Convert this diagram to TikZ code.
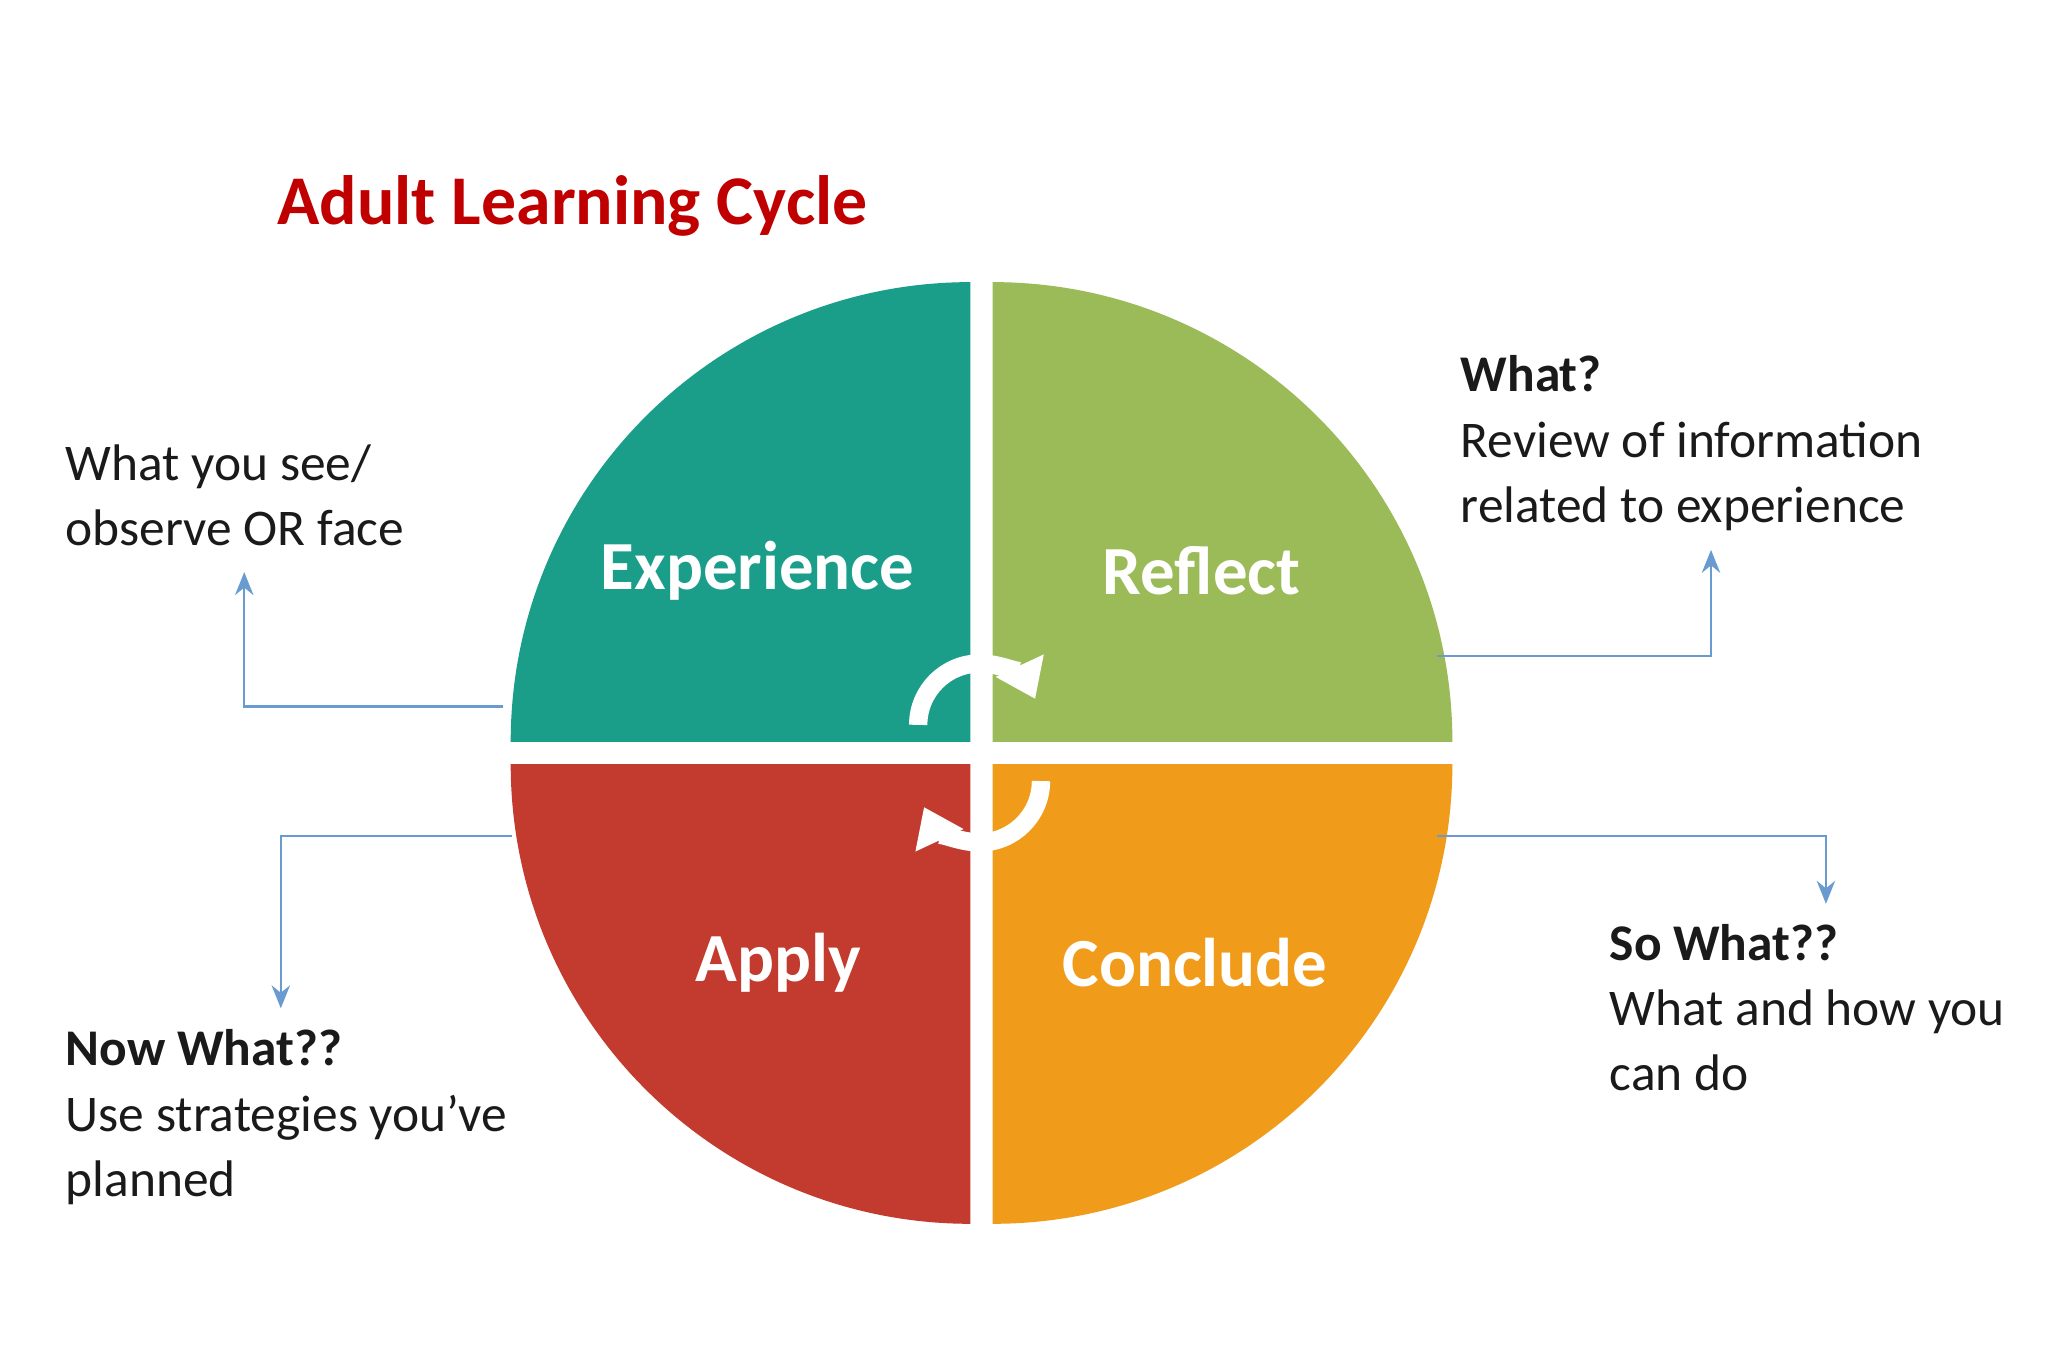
\documentclass[tikz,border=0pt]{standalone}
\usepackage{fontspec}
\setmainfont{Carlito}
\usetikzlibrary{arrows.meta}
\definecolor{teal1}{HTML}{1A9E8A}
\definecolor{green1}{HTML}{9BBB59}
\definecolor{red1}{HTML}{C23B2E}
\definecolor{orange1}{HTML}{F09C1A}
\definecolor{line1}{HTML}{6A9BD0}
\definecolor{title1}{HTML}{C00000}
\definecolor{txt1}{HTML}{1A1A1A}
\begin{document}
\begin{tikzpicture}[x=0.01cm,y=-0.01cm,
  quad/.style={font=\fontsize{15}{18}\selectfont\bfseries,text=white},
  side/.style={anchor=base west,align=left,font=\fontsize{11.2}{14.2}\selectfont,text=txt1},
  conn/.style={draw=line1,line width=0.5pt,-{Stealth[length=5pt,width=4pt]}}]
\useasboundingbox (0,0) rectangle (1568,1046);
\fill[white] (0,0) rectangle (1568,1046);
\def\R{352}
\fill[teal1] (743,568) -- (743-\R,568) arc[start angle=180,end angle=90,x radius=\R,y radius=-\R] -- cycle;
\fill[green1] (760,568) -- (760,568-\R) arc[start angle=90,end angle=0,x radius=\R,y radius=-\R] -- cycle;
\fill[red1] (743,585) -- (743,585+\R) arc[start angle=270,end angle=180,x radius=\R,y radius=-\R] -- cycle;
\fill[orange1] (760,585) -- (760+\R,585) arc[start angle=360,end angle=270,x radius=\R,y radius=-\R] -- cycle;
% center arrows
\draw[white,line width=4pt,-{Triangle[length=8pt,width=11pt]}] (703,555) arc[start angle=180,end angle=25,x radius=47,y radius=-47];
\draw[white,line width=4pt,-{Triangle[length=8pt,width=11pt]}] (797,598) arc[start angle=0,end angle=-155,x radius=47,y radius=-47];
\node[quad] (exp) at (580,437) {Experience};
\node[quad] (ref) at (920,437) {Reflect};
\node[quad] (app) at (596,737) {Apply};
\node[quad] (con) at (915,737) {Conclude};
\node[anchor=base west,font=\fontsize{15.2}{18}\selectfont\bfseries,text=title1] (title) at (200,172) {Adult Learning Cycle};
\node[side] (t1) at (38,418) {What you see/\\observe OR face};
\node[side] (t2) at (1106,400) {\textbf{What?}\\Review of information\\related to experience};
\node[side] (t3) at (1220,835) {\textbf{So What??}\\What and how you\\can do};
\node[side] (t4) at (38,916) {\textbf{Now What??}\\Use strategies you’ve\\planned};
\coordinate (c1) at (385,541); \coordinate (e1) at (187,438);
\coordinate (c2) at (1100,502); \coordinate (e2) at (1310,421);
\coordinate (c3) at (1100,640); \coordinate (e3) at (1398,692);
\coordinate (c4) at (392,640); \coordinate (e4) at (215,772);
\draw[conn] (c1) -| (e1);
\draw[conn] (c2) -| (e2);
\draw[conn] (c3) -| (e3);
\draw[conn] (c4) -| (e4);
\end{tikzpicture}
\end{document}
